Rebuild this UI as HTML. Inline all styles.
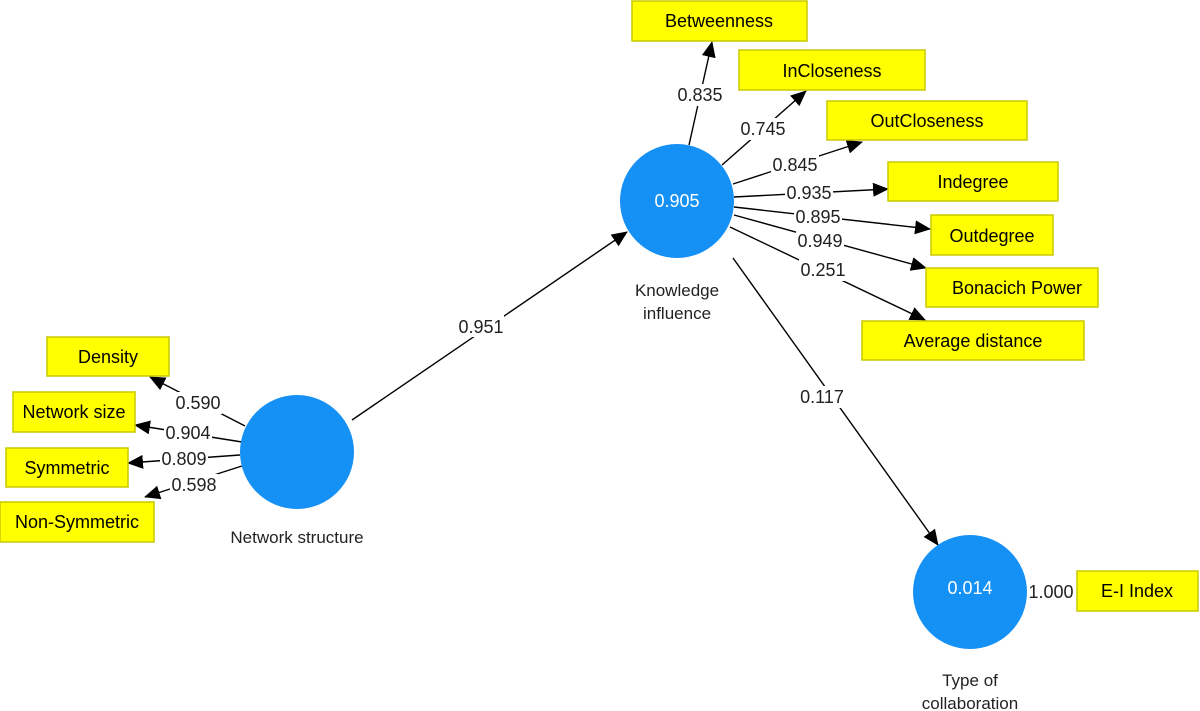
<!DOCTYPE html>
<html><head><meta charset="utf-8"><style>
html,body{margin:0;padding:0;background:#fff;}
svg{display:block;font-family:"Liberation Sans","DejaVu Sans",sans-serif;}
.b{fill:#ffff00;stroke:#c8c800;stroke-width:1.5}
.t{font-size:18px;fill:#000;text-anchor:middle}
.n{font-size:18px;fill:#222;text-anchor:middle}
.l{stroke:#000;stroke-width:1.4}
.bg{fill:#fff}
</style></head><body>
<svg width="1200" height="711" viewBox="0 0 1200 711">
<defs>
<marker id="h" markerWidth="16" markerHeight="14" refX="15" refY="7" orient="auto" markerUnits="userSpaceOnUse"><path d="M0,0 L16,7 L0,14 z" fill="#000"/></marker></defs>

<line class="l" x1="352" y1="420" x2="627" y2="232" marker-end="url(#h)"/>
<line class="l" x1="733" y1="258" x2="938" y2="545" marker-end="url(#h)"/>
<line class="l" x1="689" y1="145" x2="712" y2="42" marker-end="url(#h)"/>
<line class="l" x1="722" y1="165" x2="806" y2="91" marker-end="url(#h)"/>
<line class="l" x1="733" y1="184" x2="862" y2="142" marker-end="url(#h)"/>
<line class="l" x1="734" y1="197" x2="888" y2="189" marker-end="url(#h)"/>
<line class="l" x1="734" y1="207" x2="930" y2="229" marker-end="url(#h)"/>
<line class="l" x1="734" y1="215" x2="926" y2="268" marker-end="url(#h)"/>
<line class="l" x1="730" y1="227" x2="925" y2="320" marker-end="url(#h)"/>
<line class="l" x1="245" y1="426" x2="150" y2="377" marker-end="url(#h)"/>
<line class="l" x1="242" y1="442" x2="135" y2="425" marker-end="url(#h)"/>
<line class="l" x1="240" y1="455" x2="128" y2="463" marker-end="url(#h)"/>
<line class="l" x1="242" y1="466" x2="145" y2="497" marker-end="url(#h)"/>

<g class="bg">
<rect x="458" y="315" width="46" height="22"/><rect x="798" y="386" width="48" height="22"/>
<rect x="676" y="84" width="48" height="22"/><rect x="739" y="118" width="48" height="22"/>
<rect x="771" y="154" width="48" height="22"/><rect x="785" y="182" width="48" height="22"/>
<rect x="794" y="206" width="48" height="22"/><rect x="796" y="230" width="48" height="22"/>
<rect x="799" y="259" width="48" height="22"/>
<rect x="174" y="392" width="48" height="22"/><rect x="164" y="422" width="48" height="22"/>
<rect x="160" y="448" width="48" height="22"/><rect x="170" y="474" width="48" height="22"/>
</g>
<g class="n">
<text x="481" y="333">0.951</text><text x="822" y="403">0.117</text>
<text x="700" y="101">0.835</text><text x="763" y="135">0.745</text>
<text x="795" y="171">0.845</text><text x="809" y="199">0.935</text>
<text x="818" y="223">0.895</text><text x="820" y="247">0.949</text>
<text x="823" y="276">0.251</text>
<text x="198" y="409">0.590</text><text x="188" y="439">0.904</text>
<text x="184" y="465">0.809</text><text x="194" y="491">0.598</text>
<text x="1051" y="598">1.000</text>
</g>

<circle cx="677" cy="201" r="57" fill="#1590f5"/>
<circle cx="297" cy="452" r="57" fill="#1590f5"/>
<circle cx="970" cy="592" r="57" fill="#1590f5"/>
<text x="677" y="207" class="t" style="fill:#fff">0.905</text>
<text x="970" y="594" class="t" style="fill:#fff">0.014</text>
<g class="n" style="font-size:17px">
<text x="297" y="543">Network structure</text>
<text x="677" y="296">Knowledge</text><text x="677" y="319">influence</text>
<text x="970" y="686">Type of</text><text x="970" y="709">collaboration</text>
</g>

<rect class="b" x="632" y="1" width="175" height="40"/><text class="t" x="719" y="27">Betweenness</text>
<rect class="b" x="739" y="50" width="186" height="40"/><text class="t" x="832" y="77">InCloseness</text>
<rect class="b" x="827" y="101" width="200" height="39"/><text class="t" x="927" y="127">OutCloseness</text>
<rect class="b" x="888" y="162" width="170" height="39"/><text class="t" x="973" y="188">Indegree</text>
<rect class="b" x="931" y="215" width="122" height="40"/><text class="t" x="992" y="242">Outdegree</text>
<rect class="b" x="926" y="268" width="172" height="39"/><text class="t" x="1017" y="294">Bonacich Power</text>
<rect class="b" x="862" y="321" width="222" height="39"/><text class="t" x="973" y="347">Average distance</text>
<rect class="b" x="47" y="337" width="122" height="39"/><text class="t" x="108" y="363">Density</text>
<rect class="b" x="13" y="392" width="122" height="40"/><text class="t" x="74" y="418">Network size</text>
<rect class="b" x="6" y="448" width="122" height="39"/><text class="t" x="67" y="474">Symmetric</text>
<rect class="b" x="0" y="502" width="154" height="40"/><text class="t" x="77" y="528">Non-Symmetric</text>
<rect class="b" x="1077" y="571" width="121" height="40"/><text class="t" x="1137" y="597">E-I Index</text>
</svg>
</body></html>
